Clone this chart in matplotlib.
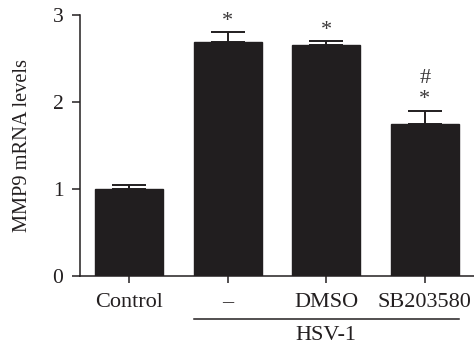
import matplotlib
matplotlib.use("Agg")
import matplotlib.pyplot as plt

categories = ["Control", "–", "DMSO", "SB203580"]
values = [1.00, 2.69, 2.655, 1.75]
errors = [0.05, 0.11, 0.045, 0.15]
marks = ["", "*", "*", "#\n*"]
group_label = "HSV-1"
yticks = [0, 1, 2, 3]

plt.rcParams['font.family'] = ['Liberation Serif', 'DejaVu Serif']

fig = plt.figure(figsize=(4.74, 3.51), dpi=100)
ax = fig.add_axes([80/474, 75/351, 394/474, 261/351])

x = list(range(len(categories)))
barc = '#211e1f'
ax.bar(x, values, width=0.69, color=barc, edgecolor=barc, linewidth=1, zorder=2)
ax.errorbar(x, values, yerr=[[0]*len(errors), errors], fmt='none', ecolor=barc,
            elinewidth=1.4, capsize=12.5, capthick=1.4, zorder=1)

for xi, v, e, m in zip(x, values, errors, marks):
    if not m:
        continue
    lines = m.split("\n")
    for k, s in enumerate(reversed(lines)):
        ax.annotate(s, xy=(xi, v + e), xytext=(0, 1 + 15*k), textcoords='offset points',
                    ha='center', va='bottom', fontsize=16 if s == '*' else 16,
                    color='#3a3839')

ax.set_xlim(-0.5, 3.5)
ax.set_ylim(0, 3)
ax.set_yticks(yticks)
ax.set_xticks(x)
ax.set_xticklabels(categories)
for s in ['top', 'right']:
    ax.spines[s].set_visible(False)
for s in ['left', 'bottom']:
    ax.spines[s].set_linewidth(1.1)
    ax.spines[s].set_color('#231f20')
ax.tick_params(axis='y', length=6, width=1.1, pad=6, labelsize=15.5, colors='#231f20')
ax.tick_params(axis='x', length=5, width=1.1, pad=7, labelsize=16, colors='#231f20')
ax.set_ylabel("MMP9 mRNA levels", fontsize=14.7, color='#231f20', labelpad=15)

trans = ax.get_xaxis_transform()
ax.plot([1 - 0.345, 3 + 0.345], [-0.165, -0.165], transform=trans, color='#231f20',
        lw=1.1, clip_on=False)
ax.text(2, -0.228, group_label, transform=trans, ha='center', va='center',
        fontsize=16, color='#231f20')

fig.savefig("out.png", dpi=100)
